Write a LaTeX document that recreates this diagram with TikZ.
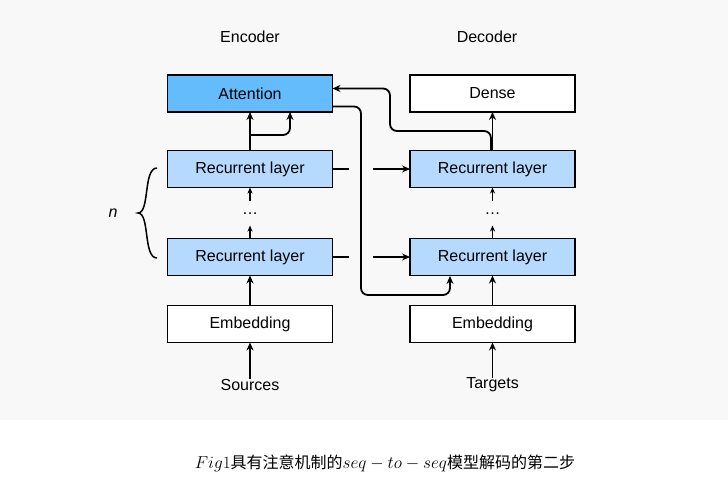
\documentclass[tikz,border=0pt]{standalone}
\usepackage{fontspec}
\usetikzlibrary{arrows.meta}
\setmainfont{Liberation Sans}
\newfontfamily\cjk{Noto Sans CJK SC}
\definecolor{attfill}{HTML}{64BCFC}
\definecolor{recfill}{HTML}{B5DAFE}
\definecolor{bgcol}{HTML}{F8F8F8}
\begin{document}
\begin{tikzpicture}[x=1pt,y=-1pt,inner sep=0pt,outer sep=0pt,
  box/.style={draw=black,line width=1.8pt,minimum width=165pt,minimum height=37pt,font=\fontsize{16}{18}\selectfont},
  lbl/.style={font=\fontsize{16}{18}\selectfont},
  arr/.style={-{Stealth[length=8pt,width=7pt]},line width=1.8pt,rounded corners=7pt},
  ln/.style={line width=1.8pt}]
  \useasboundingbox (0,0) rectangle (728,488);
  \fill[bgcol] (0,0) rectangle (728,420);

  % titles
  \node[lbl] (enc) at (250,37) {Encoder};
  \node[lbl] (dec) at (487,37) {Decoder};

  % encoder
  \node[box,fill=attfill] (att) at (250,93.5) {Attention};
  \node[box,fill=recfill] (er2) at (250,169) {Recurrent layer};
  \node[box,fill=recfill] (er1) at (250,257) {Recurrent layer};
  \node[box,fill=white] (eemb) at (250,324) {Embedding};
  \node[lbl] (src) at (250,385) {Sources};
  \node[lbl] (edots) at (250,214) {\dots};

  % decoder
  \node[box,fill=white] (dense) at (492.5,93.5) {Dense};
  \node[box,fill=recfill] (dr2) at (492.5,169) {Recurrent layer};
  \node[box,fill=recfill] (dr1) at (492.5,257) {Recurrent layer};
  \node[box,fill=white] (demb) at (492.5,324) {Embedding};
  \node[lbl] (tgt) at (492.5,385) {Targets};
  \node[lbl] (ddots) at (492.5,214) {\dots};

  % n brace
  \node[lbl,font=\fontsize{16}{18}\itshape] (n) at (113,213) {n};
  \draw[line width=1.5pt] (157,168) .. controls (143,168) and (150,213) .. (138,213)
    .. controls (150,213) and (143,258) .. (157,258);

  % vertical arrows encoder
  \draw[arr] (src.north) -- (eemb.south);
  \draw[arr] (eemb.north) -- (er1.south);
  \draw[arr,line width=1.3pt,-{Stealth[length=6pt,width=5pt]}] (er1.north) -- ++(0,-13);
  \draw[arr,line width=1.3pt,-{Stealth[length=6pt,width=5pt]}] ([yshift=-13pt]er2.south) -- (er2.south);
  \draw[arr] (er2.north) -- (att.south);
  \draw[arr] (250,135) -- (290,135) -- (290,112);

  % vertical arrows decoder
  \draw[arr] (tgt.north) -- (demb.south);
  \draw[arr] (demb.north) -- (dr1.south);
  \draw[arr,line width=1.3pt,-{Stealth[length=6pt,width=5pt]}] (dr1.north) -- ++(0,-13);
  \draw[arr,line width=1.3pt,-{Stealth[length=6pt,width=5pt]}] ([yshift=-13pt]dr2.south) -- (dr2.south);
  \draw[arr] (dr2.north) -- (dense.south);

  % state transfer
  \draw[ln] (er2.east) -- ++(16,0);
  \draw[arr] ([xshift=-37pt]dr2.west) -- (dr2.west);
  \draw[ln] (er1.east) -- ++(16,0);
  \draw[arr] ([xshift=-37pt]dr1.west) -- (dr1.west);

  % attention links
  \draw[arr] ([xshift=-1.5pt]dr2.north) |- (390,131) |- ([yshift=5pt]att.east);
  \draw[arr] ([yshift=-13pt]att.east) -| (361,295) -| (450,276);

  % caption
  \node[font=\fontsize{16}{18}\selectfont] (cap) at (385,463)
    {$Fig1${\cjk 具有注意机制的}$seq-to-seq${\cjk 模型解码的第二步}};
\end{tikzpicture}
\end{document}
